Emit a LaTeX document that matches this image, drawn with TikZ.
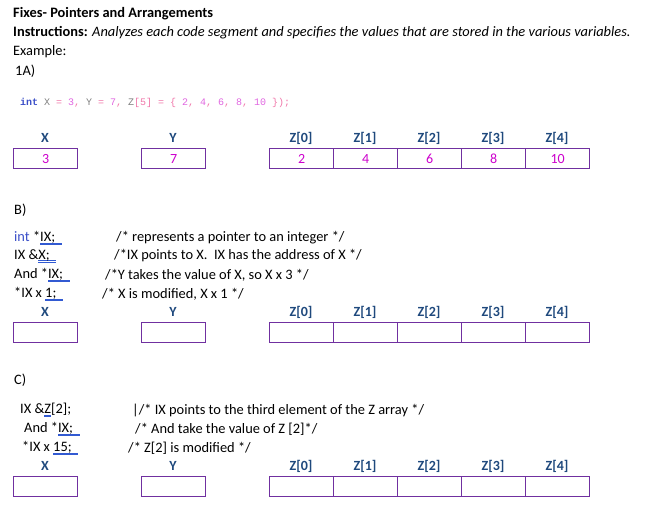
\documentclass[tikz,border=0pt]{standalone}
\usepackage{fontspec}
\setmainfont{Carlito}
\setmonofont{Liberation Mono}
\definecolor{lab}{RGB}{31,73,125}
\definecolor{val}{RGB}{204,0,204}
\definecolor{bx}{RGB}{112,48,160}
\definecolor{ulb}{RGB}{50,90,210}
\definecolor{kw}{RGB}{60,80,200}
\definecolor{pk}{RGB}{240,120,170}
\newcommand\dul[1]{\setbox0\hbox{#1}\rlap{\color{ulb}\rule[-2pt]{\wd0}{0.7pt}}\rlap{\color{ulb}\rule[-3.8pt]{\wd0}{0.7pt}}\box0}
\begin{document}
\begin{tikzpicture}[x=1pt,y=-1pt,
  txt/.style={anchor=west,inner sep=0pt,font=\fontsize{14.4}{16}\selectfont},
  lbl/.style={inner sep=0pt,font=\fontsize{14}{16}\selectfont\bfseries,text=lab},
  cell/.style={draw=bx,line width=1.2pt,minimum width=64pt,minimum height=20pt,inner sep=0pt,anchor=north west,text=val,font=\fontsize{14}{16}\selectfont}]
\useasboundingbox (0,0) rectangle (668,512);
\node[txt,font=\fontsize{14.4}{16}\selectfont\bfseries] (t) at (13,14) {Fixes- Pointers and Arrangements};
\node[txt] (ins) at (13,33) {\textbf{Instructions:} \itshape Analyzes each code segment and specifies the values that are stored in the various variables.};
\node[txt] (ex) at (13,52) {Example:};
\node[txt] (a) at (15,71) {1A)};
\node[txt,font=\fontsize{10}{12}\ttfamily] (code) at (20,103) {\textcolor{kw}{\bfseries int} \textcolor{gray}{X} \textcolor{pk}{=} \textcolor{val!60}{3}\textcolor{pk}{,} \textcolor{gray}{Y} \textcolor{pk}{=} \textcolor{val!60}{7}\textcolor{pk}{,} \textcolor{gray}{Z}\textcolor{pk}{[5] = \{} \textcolor{val!60}{2}\textcolor{pk}{,} \textcolor{val!60}{4}\textcolor{pk}{,} \textcolor{val!60}{6}\textcolor{pk}{,} \textcolor{val!60}{8}\textcolor{pk}{,} \textcolor{val!60}{10} \textcolor{pk}{\});}};
\foreach \r/\y in {a/148,b/322,c/476}{
  \foreach \xx/\n [count=\i] in {13/X,141/Y,269/Z[0],333/Z[1],397/Z[2],461/Z[3],525/Z[4]}{
    \node[lbl] (l\r\i) at (\xx+32,\y-10) {\n};
  }
}
\foreach \xx/\v [count=\i] in {13/3,141/7,269/2,333/4,397/6,461/8,525/10}{\node[cell] (ca\i) at (\xx,148) {\v};}
\foreach \xx [count=\i] in {13,141,269,333,397,461,525}{\node[cell] (cb\i) at (\xx,322) {};\node[cell] (cc\i) at (\xx,476) {};}
\node[txt] (b) at (14,210) {B)};
\node[txt] (b1) at (14,238) {\textcolor{kw}{int} *\dul{IX;~~}};
\node[txt] (b2) at (14,256) {IX \&\dul{X;~~}};
\node[txt] (b3) at (14,275) {And *\dul{IX;~~}};
\node[txt] (b4) at (14,294) {*IX x \dul{1;~~}};
\node[txt] (bc1) at (116,238) {/* represents a pointer to an integer */};
\node[txt] (bc2) at (114,256) {/*IX points to X.\ \ IX has the address of X */};
\node[txt] (bc3) at (105,275) {/*Y takes the value of X, so X x 3 */};
\node[txt] (bc4) at (102,294) {/* X is modified, X x 1 */};
\node[txt] (c) at (14,380) {C)};
\node[txt] (c1) at (20,410) {IX \&\dul{Z}[2];};
\node[txt] (c2) at (24,429) {And *\dul{IX;~~}};
\node[txt] (c3) at (22,448) {*IX x \dul{15;~~}};
\node[txt] (cm1) at (132,410) {|/* IX points to the third element of the Z array */};
\node[txt] (cm2) at (135,429) {/* And take the value of Z [2]*/};
\node[txt] (cm3) at (128,448) {/* Z[2] is modified */};
\end{tikzpicture}
\end{document}
